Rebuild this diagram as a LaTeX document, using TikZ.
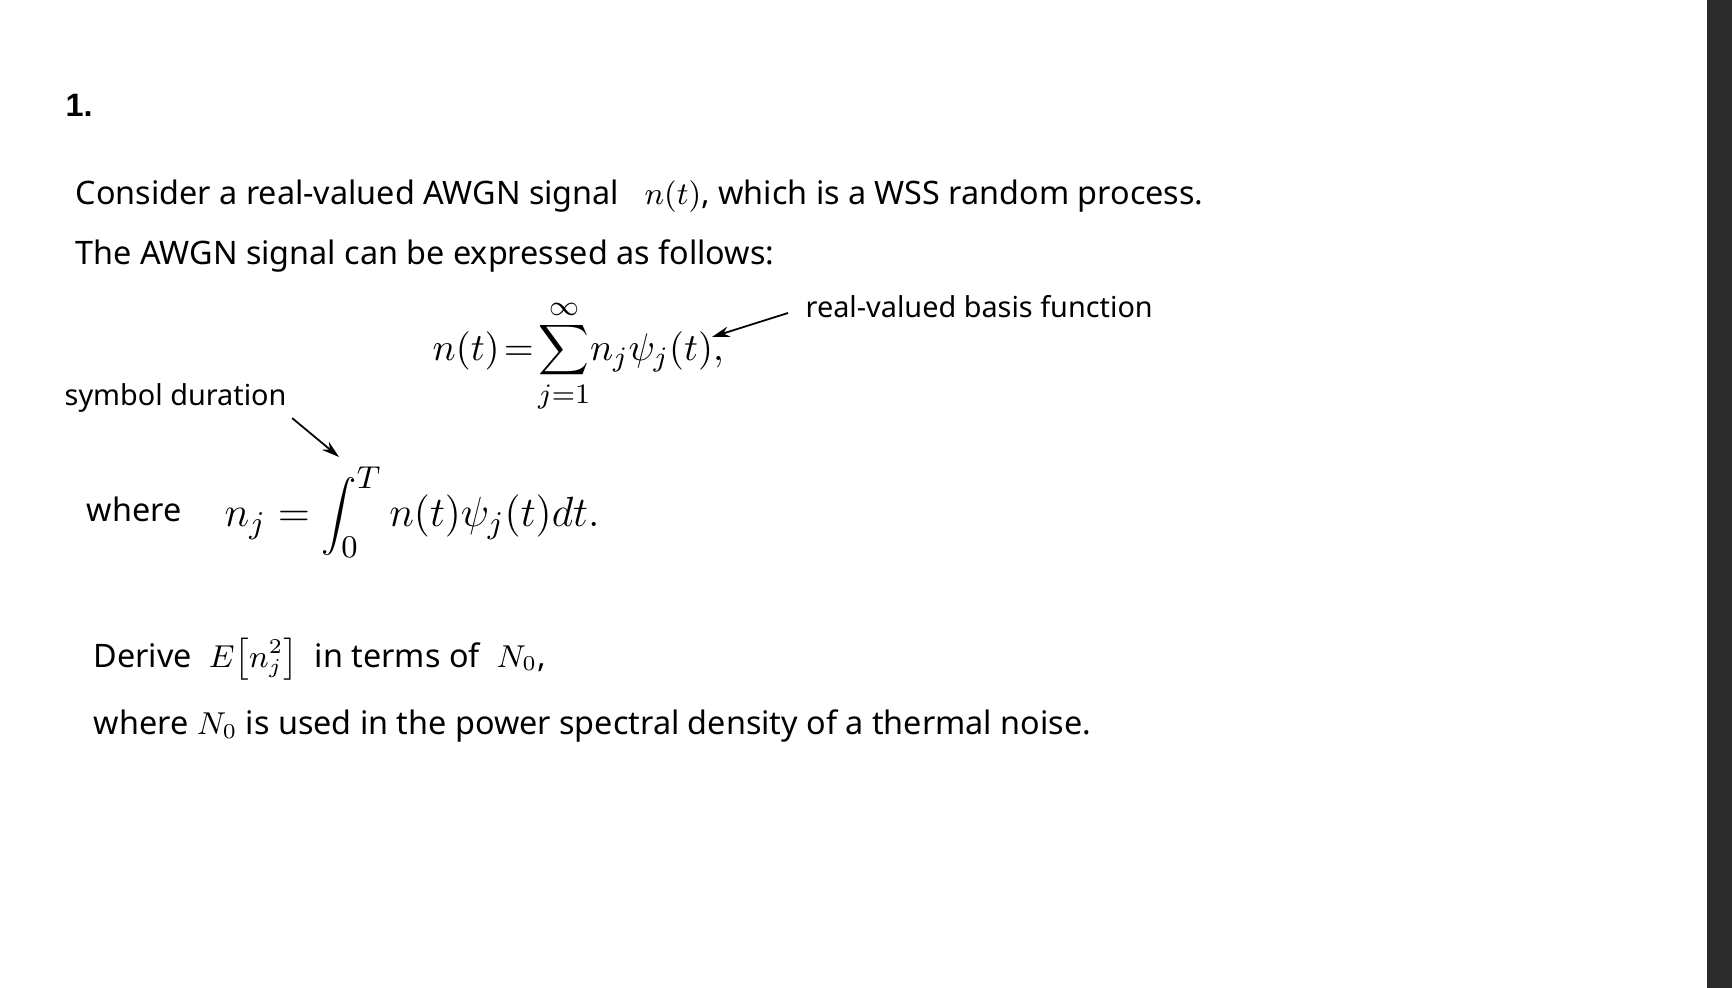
\documentclass[tikz,border=0pt]{standalone}
\usepackage{fontspec}
\setmainfont{Noto Sans}
\newfontfamily\numfont{Liberation Sans}
\usetikzlibrary{arrows.meta}
\begin{document}
\begin{tikzpicture}[x=0.01cm,y=-0.01cm,
  txt/.style={anchor=west,inner sep=0,font=\fontsize{9.2}{11}\selectfont},
  lbl/.style={anchor=west,inner sep=0,font=\fontsize{8.2}{10}\selectfont},
  eq/.style={anchor=west,inner sep=0,font=\fontsize{12.5}{15}\selectfont},
  ptr/.style={-{Stealth[length=5pt,width=3pt]},line width=0.5pt}]
\useasboundingbox (0,0) rectangle (1732,988);
\fill[white] (0,0) rectangle (1732,988);
\fill[black!83] (1707,0) rectangle (1732,988);
\node[txt] (num) at (65,105) {\numfont\bfseries 1.};
\node[txt] (l1) at (75,196) {Consider a real-valued AWGN signal \ \ $n(t)$, which is a WSS random process.};
\node[txt] (l2) at (75,256) {The AWGN signal can be expressed as follows:};
\node[lbl] (basis) at (805,307) {real-valued basis function};
\node[eq,font=\fontsize{11}{14}\selectfont] (sum) at (432,356) {$\displaystyle n(t)\!=\!\sum_{j=1}^{\infty}\! n_j\psi_j(t),$};
\node[lbl] (sd) at (64,398) {symbol duration};
\node[txt] (wh) at (86,509) {where};
\node[eq] (int) at (224,512) {$\displaystyle n_j=\int_0^T n(t)\psi_j(t)dt.$};
\coordinate (sdend) at (339,457);
\coordinate (bend) at (712,337);
\draw[ptr] (sd.south east) ++(5,5) -- (sdend);
\draw[ptr] (basis.west) ++(-17,6) -- (bend);
\node[txt] (der) at (93,659) {Derive \ $E\bigl[n_j^2\bigr]$ \ in terms of \ $N_0$,};
\node[txt] (wh2) at (93,726) {where $N_0$ is used in the power spectral density of a thermal noise.};
\end{tikzpicture}
\end{document}
